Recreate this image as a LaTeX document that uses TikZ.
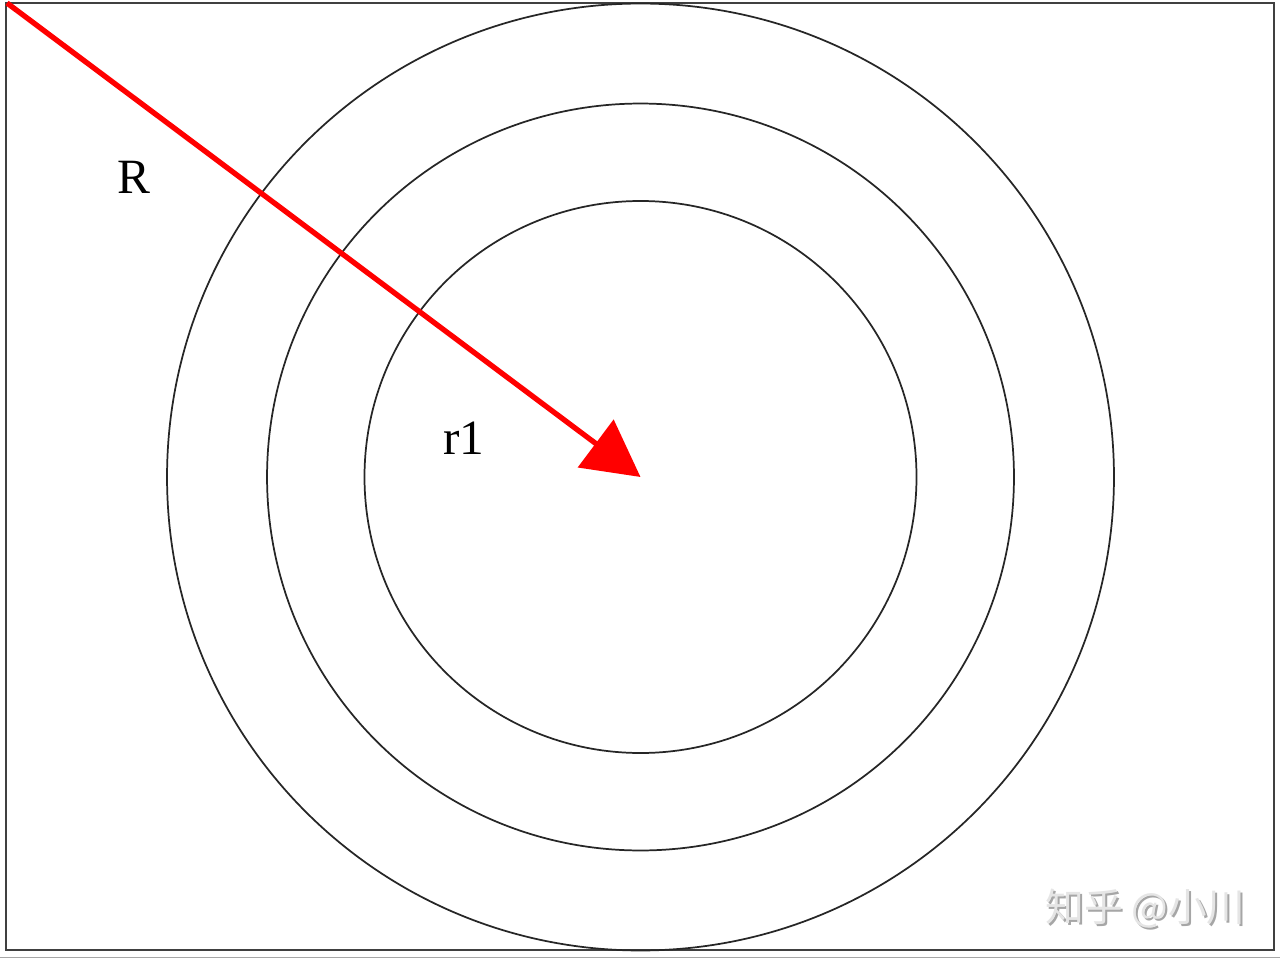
\documentclass[tikz,border=0pt]{standalone}
\usepackage{fontspec}
\setmainfont{Liberation Serif}
\newfontfamily\cjk{Noto Sans CJK SC}
\usetikzlibrary{arrows.meta}
\tikzset{
  ring/.style={draw=black!85, line width=1.3pt},
  frame/.style={draw=black!75, line width=1.8pt},
  radius arrow/.style={draw=red, line width=4pt, -{Triangle[length=42pt,width=44pt]}},
  lbl/.style={font=\fontsize{37}{40}\selectfont, inner sep=0pt},
  wm/.style={font=\cjk\fontsize{29}{31}\selectfont, inner sep=0pt}
}
\begin{document}
\begin{tikzpicture}[x=0.75pt,y=-0.75pt]
\useasboundingbox (0,0) rectangle (1280,959);
\fill[white] (0,0) rectangle (1280,959);
\draw[frame] (6,3) rectangle (1274,950);
\draw[black!35, line width=0.8pt] (0,957.5) -- (1280,957.5);
\coordinate (O) at (640.5,477);
\coordinate (A) at (7,3);
\draw[ring] (O) circle (355.1pt);
\draw[ring] (O) circle (280.1pt);
\draw[ring] (O) circle (207pt);
\draw[radius arrow] (A) -- (O);
\node[lbl] (R) at (134,177) {R};
\node[lbl] (r1) at (464,438) {r1};
\node[wm, text=black!35] (wms) at (1147.5,911) {知乎 @小川};
\node[wm, text=black!10] (wm) at (1145.5,909) {知乎 @小川};
\end{tikzpicture}
\end{document}
